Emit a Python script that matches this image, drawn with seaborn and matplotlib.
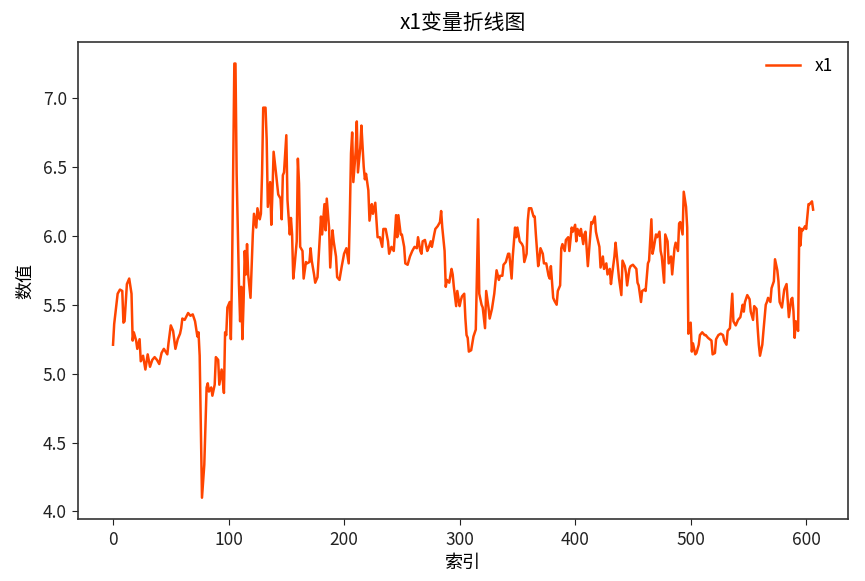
import matplotlib
matplotlib.use("Agg")
import matplotlib.pyplot as plt
import seaborn as sns
import pandas as pd

# valores (índice, x1)
indice = [
    0, 1, 4, 6, 8, 9, 10, 12, 14, 16, 17, 18, 20, 21, 23, 24, 26, 28, 30, 32,
    34, 36, 38, 40, 42, 44, 47, 48, 50, 52, 54, 56, 58, 59, 60, 62, 65, 67, 69, 71,
    73, 74, 75, 76, 77, 79, 81, 82, 83, 85, 86, 88, 89, 91, 92, 94, 95, 96, 97, 98,
    99, 101, 102, 103, 104, 105, 106, 107, 109, 110, 111, 112, 113, 114, 115, 116, 117, 119, 121, 122,
    124, 125, 127, 128, 129, 130, 132, 133, 134, 136, 137, 138, 139, 141, 143, 145, 146, 147, 148, 150,
    151, 153, 154, 155, 156, 157, 159, 160, 161, 162, 164, 165, 167, 168, 170, 171, 172, 174, 175, 177,
    178, 180, 181, 183, 184, 185, 187, 188, 190, 191, 193, 194, 196, 198, 200, 202, 204, 205, 206, 207,
    208, 210, 211, 212, 214, 215, 217, 218, 219, 221, 222, 224, 225, 227, 229, 231, 233, 234, 236, 238,
    239, 241, 243, 245, 246, 247, 249, 250, 252, 253, 255, 257, 259, 261, 263, 264, 266, 267, 268, 270,
    272, 273, 275, 276, 278, 279, 281, 283, 284, 285, 287, 288, 289, 291, 293, 294, 295, 297, 298, 300,
    301, 302, 304, 305, 306, 307, 308, 310, 312, 314, 315, 316, 317, 319, 320, 322, 323, 325, 326, 328,
    330, 332, 334, 335, 337, 338, 340, 342, 343, 345, 346, 348, 349, 350, 352, 354, 355, 356, 358, 359,
    360, 362, 364, 365, 366, 368, 369, 370, 372, 373, 375, 377, 378, 379, 381, 382, 384, 385, 387, 388,
    389, 391, 392, 394, 395, 397, 398, 400, 401, 402, 404, 405, 407, 408, 409, 411, 412, 414, 415, 417,
    418, 419, 421, 422, 424, 425, 427, 428, 430, 431, 432, 434, 435, 437, 438, 440, 441, 443, 444, 445,
    447, 448, 450, 451, 453, 454, 455, 457, 458, 460, 461, 463, 464, 466, 467, 468, 470, 471, 473, 474,
    475, 477, 478, 480, 481, 483, 484, 486, 487, 489, 490, 491, 493, 494, 496, 497, 498, 500, 501, 502,
    504, 505, 507, 508, 510, 512, 513, 515, 518, 519, 521, 522, 524, 526, 528, 529, 531, 532, 534, 536,
    537, 539, 541, 543, 545, 546, 547, 549, 551, 552, 554, 555, 557, 558, 559, 560, 562, 563, 565, 566,
    567, 569, 570, 572, 573, 575, 576, 577, 579, 581, 583, 584, 585, 587, 588, 589, 590, 591, 593, 594,
    595, 596, 597, 599, 600, 602, 603, 605, 606,
]
x1 = [
    5.21, 5.36, 5.58, 5.61, 5.60, 5.37, 5.38, 5.65, 5.69, 5.58, 5.24, 5.30, 5.24, 5.18, 5.25, 5.09, 5.13, 5.03, 5.14, 5.05,
    5.10, 5.12, 5.10, 5.07, 5.15, 5.18, 5.14, 5.22, 5.35, 5.31, 5.18, 5.25, 5.29, 5.33, 5.40, 5.39, 5.44, 5.42, 5.43, 5.38,
    5.27, 5.30, 5.13, 4.63, 4.10, 4.34, 4.90, 4.93, 4.87, 4.90, 4.84, 4.92, 5.12, 5.10, 4.92, 5.03, 4.95, 4.86, 5.30, 5.28,
    5.48, 5.52, 5.25, 5.72, 6.45, 7.25, 7.25, 6.45, 5.65, 5.38, 5.63, 5.25, 5.52, 5.89, 5.72, 5.94, 5.72, 5.55, 6.01, 6.16,
    6.06, 6.20, 6.12, 6.16, 6.45, 6.93, 6.93, 6.70, 6.21, 6.39, 6.08, 6.32, 6.61, 6.46, 6.30, 6.27, 6.12, 6.44, 6.46, 6.73,
    6.26, 6.01, 6.13, 6.01, 5.69, 5.77, 5.96, 6.56, 6.38, 5.92, 5.89, 5.69, 5.81, 5.80, 5.81, 5.91, 5.82, 5.72, 5.66, 5.70,
    5.85, 6.14, 6.01, 6.23, 6.04, 6.27, 6.06, 5.77, 6.04, 5.96, 5.85, 5.70, 5.68, 5.78, 5.87, 5.91, 5.80, 6.16, 6.60, 6.75,
    6.39, 6.61, 6.83, 6.46, 6.64, 6.80, 6.50, 6.41, 6.45, 6.33, 6.11, 6.23, 6.16, 6.24, 5.99, 5.99, 5.92, 6.05, 6.05, 5.96,
    5.87, 5.92, 5.89, 6.15, 5.99, 6.15, 6.01, 6.01, 5.92, 5.80, 5.79, 5.85, 5.89, 5.92, 5.91, 5.99, 5.89, 5.87, 5.96, 5.97,
    5.89, 5.91, 5.96, 5.92, 6.01, 6.05, 6.07, 6.10, 6.18, 6.06, 5.89, 5.63, 5.68, 5.66, 5.76, 5.72, 5.63, 5.49, 5.60, 5.49,
    5.53, 5.56, 5.58, 5.40, 5.28, 5.26, 5.16, 5.17, 5.27, 5.32, 5.72, 6.12, 5.58, 5.50, 5.48, 5.33, 5.60, 5.48, 5.40, 5.47,
    5.58, 5.75, 5.68, 5.71, 5.71, 5.79, 5.81, 5.87, 5.87, 5.69, 5.85, 6.06, 5.99, 6.06, 5.96, 5.94, 5.92, 5.81, 5.87, 6.11,
    6.20, 6.20, 6.14, 6.14, 6.01, 5.78, 5.83, 5.91, 5.87, 5.80, 5.80, 5.71, 5.69, 5.78, 5.55, 5.53, 5.50, 5.60, 5.64, 5.91,
    5.94, 5.89, 5.97, 5.99, 5.89, 6.06, 6.03, 6.08, 5.96, 6.05, 6.00, 6.05, 5.94, 6.01, 6.03, 5.78, 5.89, 6.10, 6.09, 6.14,
    6.03, 5.99, 5.92, 5.77, 5.85, 5.76, 5.80, 5.72, 5.76, 5.65, 5.72, 5.85, 5.95, 5.78, 5.69, 5.57, 5.82, 5.78, 5.73, 5.64,
    5.76, 5.78, 5.79, 5.78, 5.76, 5.66, 5.64, 5.52, 5.60, 5.61, 5.60, 5.80, 5.82, 6.12, 5.87, 5.91, 6.01, 5.99, 6.03, 5.89,
    5.85, 5.66, 6.01, 5.96, 5.80, 5.85, 5.72, 5.91, 5.95, 5.89, 6.09, 6.10, 6.01, 6.32, 6.21, 6.06, 5.29, 5.37, 5.16, 5.22,
    5.14, 5.15, 5.21, 5.28, 5.30, 5.28, 5.28, 5.26, 5.24, 5.14, 5.15, 5.25, 5.28, 5.29, 5.28, 5.24, 5.21, 5.31, 5.33, 5.58,
    5.38, 5.35, 5.39, 5.41, 5.50, 5.45, 5.52, 5.57, 5.54, 5.45, 5.39, 5.49, 5.47, 5.33, 5.21, 5.13, 5.21, 5.31, 5.50, 5.52,
    5.55, 5.52, 5.62, 5.67, 5.83, 5.75, 5.67, 5.52, 5.48, 5.61, 5.65, 5.53, 5.41, 5.54, 5.55, 5.45, 5.26, 5.38, 5.31, 6.06,
    5.93, 6.05, 6.04, 6.07, 6.05, 6.23, 6.23, 6.25, 6.19,
]


def generate_plot():
    df = pd.DataFrame({"索引": indice, "x1": x1})

    plt.rcParams["font.family"] = ["Noto Sans CJK SC", "DejaVu Sans"]
    plt.rcParams["axes.unicode_minus"] = False
    plt.rcParams["axes.edgecolor"] = "#333333"
    plt.rcParams["axes.linewidth"] = 1.2
    plt.rcParams["xtick.major.size"] = 4.5
    plt.rcParams["ytick.major.size"] = 4.5

    fig = plt.figure(figsize=(8.65, 5.81), dpi=100)
    ax = fig.add_axes([0.0902, 0.106, 0.8903, 0.822])

    sns.lineplot(data=df, x="索引", y="x1", color="#ff4500", linewidth=1.8,
                 label="x1", ax=ax)

    ax.set_title("x1变量折线图", fontsize=15, pad=9)
    ax.set_xlabel("索引", fontsize=13, labelpad=4)
    ax.set_ylabel("数值", fontsize=13, labelpad=6)
    ax.set_xticks([0, 100, 200, 300, 400, 500, 600])
    ax.set_yticks([4.0, 4.5, 5.0, 5.5, 6.0, 6.5, 7.0])
    ax.tick_params(labelsize=12.5, colors="#222222")
    ax.legend(loc="upper right", frameon=False, fontsize=12.5)

    fig.savefig("out.png", dpi=100)


if __name__ == "__main__":
    generate_plot()
